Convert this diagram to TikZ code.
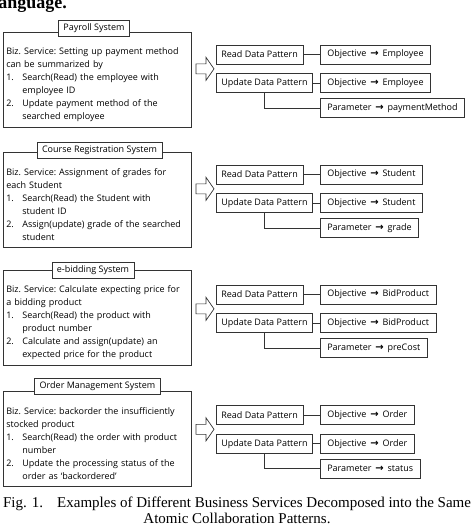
\documentclass[tikz,border=0pt]{standalone}
\usepackage{fontspec}
\setmainfont{Liberation Serif}
\newfontfamily\boxfont{Open Sans}
\newfontfamily\arrowfont{DejaVu Sans}
\usepackage{tikz}
\usetikzlibrary{positioning, calc}

\newcommand{\toarrow}{\hspace{1.5pt}{\arrowfont\bfseries\fontsize{10}{10}\selectfont →}\hspace{1.5pt}}
\newcommand{\stepitem}[1]{\par\hangindent=16pt\noindent\makebox[16pt][l]{#1}}
\newcommand{\hollowarrow}[1]{\draw[line] (#1) ++(0,-5) -- ++(10,0) -- ++(0,-6.5) -- ++(8,11.5) -- ++(-8,11.5) -- ++(0,-6.5) -- ++(-10,0) -- cycle;}

\begin{document}
\begin{tikzpicture}[x=1pt, y=-1pt,
        sysbox/.style={rectangle, draw=black!80, line width=0.7pt, text width=182pt, minimum height=95pt, inner xsep=3pt, inner ysep=3pt, align=left, anchor=north west, font=\boxfont\fontsize{9}{13}\selectfont\frenchspacing, execute at begin node={\rule{0pt}{17pt}}},
        systitle/.style={rectangle, draw=black!80, line width=0.7pt, fill=white, inner xsep=5pt, minimum height=16pt, font=\boxfont\fontsize{9}{10}\selectfont},
        pattern/.style={rectangle, draw=black!80, line width=0.7pt, inner xsep=5pt, minimum height=19pt, font=\boxfont\fontsize{9}{10}\selectfont},
        field/.style={pattern, inner xsep=7pt},
        line/.style={draw=black!80, line width=0.7pt}]
    \useasboundingbox (0,0) rectangle (474,528);

    \node[font=\bfseries\fontsize{18}{20}\selectfont, anchor=base east, inner sep=0pt] (heading) at (67,8.5) {language.};

    % Payroll
    \node[sysbox] (payroll) at (3,32) {Biz. Service: Setting up payment method\newline can be summarized by
        \stepitem{1.}Search(Read) the employee with\newline employee ID
        \stepitem{2.}Update payment method of the\newline searched employee\par};
    \node[systitle] (payrolltitle) at (94,28) {Payroll System};
    \node[pattern, anchor=west] (read1) at (216,54.5) {Read Data Pattern};
    \node[pattern, below=9pt of read1.south west, anchor=north west] (upd1) {Update Data Pattern};
    \node[field, right=7pt of upd1] (uobj1) {Objective \toarrow{} Employee};
    \node[field, anchor=west] (robj1) at (uobj1.west |- read1) {Objective \toarrow{} Employee};
    \node[field, below=5pt of uobj1.south west, anchor=north west] (par1) {Parameter \toarrow{} paymentMethod};
    \path[line] (read1) -- (robj1);
    \path[line] (upd1) -- (uobj1);
    \path[line] (upd1.south) |- (par1.west);
    \coordinate (ar1) at ($(read1.west)!0.5!(upd1.west) + (-20,0)$);
    \hollowarrow{ar1}

    % Course Registration
    \node[sysbox] (course) at (3,152) {Biz. Service: Assignment of grades for\newline each Student
        \stepitem{1.}Search(Read) the Student with\newline student ID
        \stepitem{2.}Assign(update) grade of the searched\newline student\par};
    \node[systitle] (coursetitle) at (99.5,150) {Course Registration System};
    \node[pattern, anchor=west] (read2) at (216,174.5) {Read Data Pattern};
    \node[pattern, below=9pt of read2.south west, anchor=north west] (upd2) {Update Data Pattern};
    \node[field, right=7pt of upd2] (uobj2) {Objective \toarrow{} Student};
    \node[field, anchor=west] (robj2) at (uobj2.west |- read2) {Objective \toarrow{} Student};
    \node[field, below=5pt of uobj2.south west, anchor=north west] (par2) {Parameter \toarrow{} grade};
    \path[line] (read2) -- (robj2);
    \path[line] (upd2) -- (uobj2);
    \path[line] (upd2.south) |- (par2.west);
    \coordinate (ar2) at ($(read2.west)!0.5!(upd2.west) + (-20,0)$);
    \hollowarrow{ar2}

    % e-bidding
    \node[sysbox] (bidding) at (3,270) {Biz. Service: Calculate expecting price for\newline a bidding product
        \stepitem{1.}Search(Read) the product with\newline product number
        \stepitem{2.}Calculate and assign(update) an\newline expected price for the product\par};
    \node[systitle] (biddingtitle) at (93,270) {e-bidding System};
    \node[pattern, anchor=west] (read3) at (216,294.5) {Read Data Pattern};
    \node[pattern, below=9pt of read3.south west, anchor=north west] (upd3) {Update Data Pattern};
    \node[field, right=7pt of upd3] (uobj3) {Objective \toarrow{} BidProduct};
    \node[field, anchor=west] (robj3) at (uobj3.west |- read3) {Objective \toarrow{} BidProduct};
    \node[field, below=5pt of uobj3.south west, anchor=north west] (par3) {Parameter \toarrow{} preCost};
    \path[line] (read3) -- (robj3);
    \path[line] (upd3) -- (uobj3);
    \path[line] (upd3.south) |- (par3.west);
    \coordinate (ar3) at ($(read3.west)!0.5!(upd3.west) + (-20,0)$);
    \hollowarrow{ar3}

    % Order Management
    \node[sysbox] (order) at (3,391) {Biz. Service: backorder the insufficiently\newline stocked product
        \stepitem{1.}Search(Read) the order with product\newline number
        \stepitem{2.}Update the processing status of the\newline order as ‘backordered’\par};
    \node[systitle] (ordertitle) at (97.5,386) {Order Management System};
    \node[pattern, anchor=west] (read4) at (216,415) {Read Data Pattern};
    \node[pattern, below=9pt of read4.south west, anchor=north west] (upd4) {Update Data Pattern};
    \node[field, right=7pt of upd4] (uobj4) {Objective \toarrow{} Order};
    \node[field, anchor=west] (robj4) at (uobj4.west |- read4) {Objective \toarrow{} Order};
    \node[field, below=5pt of uobj4.south west, anchor=north west] (par4) {Parameter \toarrow{} status};
    \path[line] (read4) -- (robj4);
    \path[line] (upd4) -- (uobj4);
    \path[line] (upd4.south) |- (par4.west);
    \coordinate (ar4) at ($(read4.west)!0.5!(upd4.west) + (-20,0)$);
    \hollowarrow{ar4}

    % caption
    \node[font=\fontsize{15}{17}\selectfont, inner sep=0pt, anchor=base] (caption1) at (237,507) {\makebox[468pt]{Fig. 1.\hfill Examples of Different Business Services Decomposed into the Same}};
    \node[font=\fontsize{15}{17}\selectfont, inner sep=0pt, anchor=base] (caption2) at (237,523) {Atomic Collaboration Patterns.};
\end{tikzpicture}
\end{document}
